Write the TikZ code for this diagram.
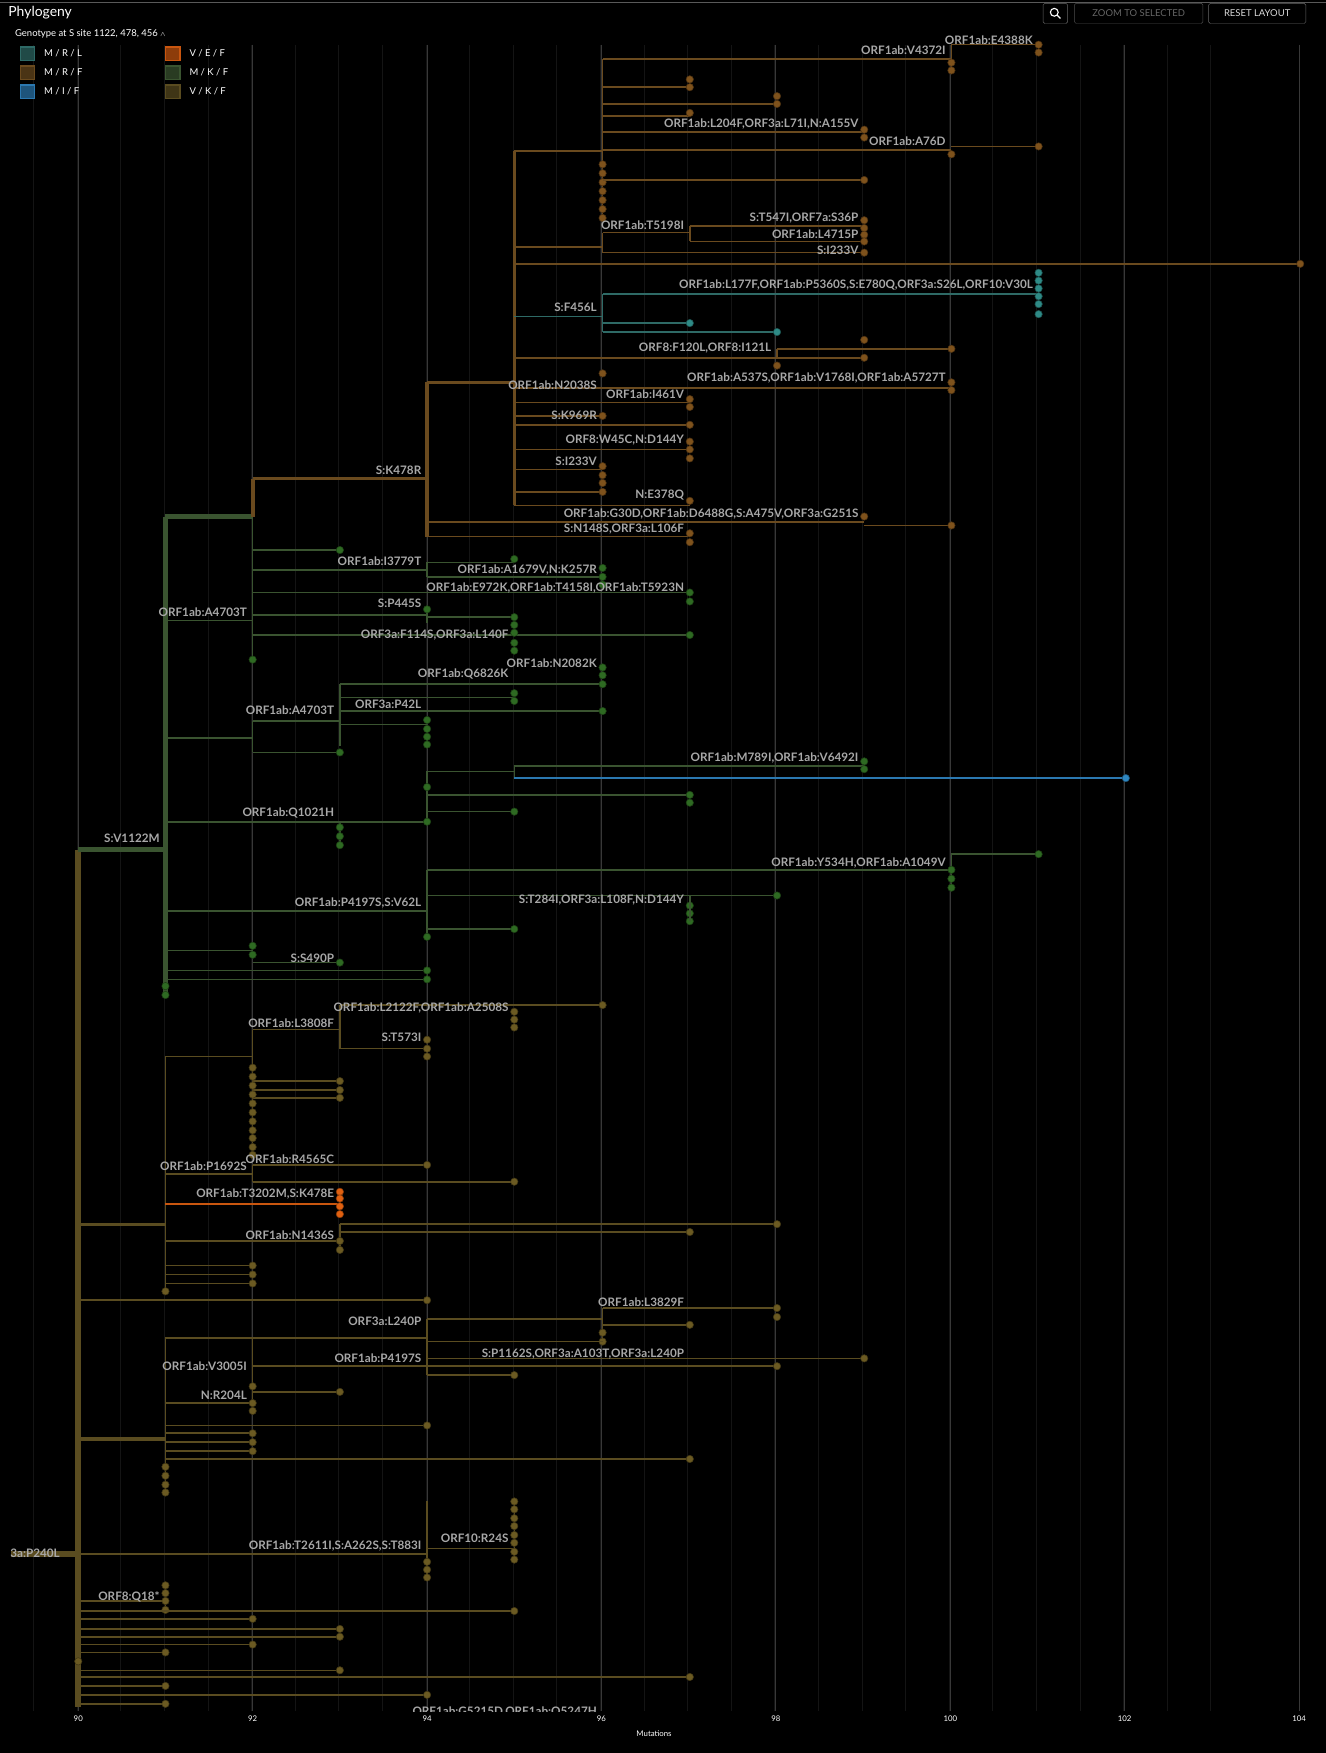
\documentclass[tikz,border=0pt]{standalone}
\usepackage{fontspec}
\setmainfont{Lato}[BoldFont={Lato Bold}]
\begin{document}
\begin{tikzpicture}[x=1bp,y=-1bp,
 vk/.style={draw=vkc,line width=1.4pt}, mr/.style={draw=mrc,line width=1.4pt},
 mk/.style={draw=mkc,line width=1.4pt}, ml/.style={draw=mlc,line width=1.4pt},
 mi/.style={draw=mic,line width=1.4pt}, ve/.style={draw=vec,line width=1.4pt},
 lab/.style={anchor=base east,text=labc,font=\bfseries\fontsize{10.5}{11}\selectfont,inner sep=1pt},
 tick/.style={text=white,font=\fontsize{7}{8}\selectfont}]
\definecolor{vkc}{HTML}{5A4C20}\definecolor{mrc}{HTML}{6A4A1E}\definecolor{mkc}{HTML}{3A5430}
\definecolor{mlc}{HTML}{2E6A66}\definecolor{mic}{HTML}{2B78B0}\definecolor{vec}{HTML}{C9560F}
\definecolor{labc}{HTML}{A8A8A8}
\definecolor{vkd}{HTML}{6B5A22}\definecolor{mrd}{HTML}{7E521C}\definecolor{mkd}{HTML}{2E6A22}
\definecolor{mld}{HTML}{2E8A86}\definecolor{mid}{HTML}{2E86C0}\definecolor{ved}{HTML}{E06010}
\fill[black] (0,0) rectangle (1186,1568);
\useasboundingbox (0,0) rectangle (1186,1568);
\newcommand\HL[4]{\draw[#1] (#2,#4)--(#3,#4);}
\newcommand\VL[4]{\draw[#1] (#2,#3)--(#2,#4);}
\newcommand\DT[3]{\fill[#1d,draw=#1d!60!black,line width=0.5pt] (#2,#3) circle (3.3);}
\newcommand\LB[3]{\node[lab] at (#1,#2) {#3};}
% grid
\foreach \i in {0,...,27}{\draw[line width=0.6pt,color=white!8!black] ({30+39*\i},40)--({30+39*\i},1530);}
\foreach \i in {0,...,7}{\draw[line width=0.8pt,color=white!22!black] ({70+156*\i},40)--({70+156*\i},1530);
 \pgfmathtruncatemacro\v{90+2*\i}\node[tick] at ({70+156*\i},1537) {\v};}
\node[text=white,font=\fontsize{7}{8}\selectfont] at (585,1551) {Mutations};
% header
\draw[white!35!black,line width=1pt] (0,2)--(1186,2);
\node[anchor=west,text=white,font=\fontsize{12.5}{13}\selectfont] at (4,11) {Phylogeny};
\node[anchor=west,text=white,font=\fontsize{8.5}{9}\selectfont] at (10,30) {Genotype at S site 1122, 478, 456 $\scriptstyle\wedge$};
\foreach \c/\t/\x/\y in {mlc/{M / R / L}/18/48, mrc/{M / R / F}/18/65, mic/{M / I / F}/18/82, vec/{V / E / F}/148/48, mkc/{M / K / F}/148/65, vkc/{V / K / F}/148/82}{
 \draw[\c,fill=\c!70!black,line width=1pt] (\x,\y-6) rectangle (\x+13,\y+6);
 \node[anchor=west,text=white,font=\fontsize{8.5}{9}\selectfont] at (\x+18,\y) {\t};}
\draw[white!40!black,rounded corners=1.5pt] (933,3) rectangle (955,21);
\draw[white,line width=1pt] (943,11) circle (3.5) (945.5,13.5)--(948.5,16.5);
\draw[white!30!black,rounded corners=1.5pt] (961,3) rectangle (1076,21);
\node[text=white!40!black,font=\fontsize{8.5}{9}\selectfont] at (1018.5,12) {ZOOM TO SELECTED};
\draw[white!40!black,rounded corners=1.5pt] (1081,3) rectangle (1168,21);
\node[text=white!85!black,font=\fontsize{8.5}{9}\selectfont] at (1124.5,12) {RESET LAYOUT};
% ===== trunk
\HL{vk,line width=5pt}{10}{70}{1390}
\node[lab,anchor=base west] at (8,1393) {3a:P240L};
\VL{vk,line width=5pt}{70}{760}{1527}
\HL{mk,line width=5pt}{70}{148}{760}\LB{144}{754}{S:V1122M}
\VL{mk,line width=4pt}{148}{462}{890}
\HL{mk,line width=4pt}{148}{226}{462}
\VL{mr,line width=3.5pt}{226}{428}{462}
\HL{mr,line width=3.5pt}{226}{382}{428}\LB{378}{424}{S:K478R}
\HL{mk}{226}{304}{492}\DT{mk}{304}{492}
\VL{mr,line width=3pt}{382}{342}{480}
\HL{mr,line width=3pt}{382}{460}{342}
\VL{mr,line width=3pt}{460}{135}{452}
% top brown clade
\HL{mr,line width=2.5pt}{460}{539}{135}
\VL{mr}{539}{53}{195}
\HL{mr}{539}{851}{53}\VL{mr}{851}{40}{63}\HL{mr}{851}{929}{40}
\DT{mr}{929}{40}\DT{mr}{929}{47}\DT{mr}{851}{56}\DT{mr}{851}{63}
\LB{925}{40}{ORF1ab:E4388K}\LB{847}{49}{ORF1ab:V4372I}
\HL{mr}{539}{617}{78}\DT{mr}{617}{71}\DT{mr}{617}{78}
\HL{mr}{539}{695}{93}\DT{mr}{695}{86}\DT{mr}{695}{93}
\HL{mr}{539}{617}{104}\DT{mr}{617}{101}
\HL{mr}{539}{773}{118}\DT{mr}{773}{116}\DT{mr}{773}{123}\LB{769}{114}{ORF1ab:L204F,ORF3a:L71I,N:A155V}
\HL{mr}{539}{851}{134}\HL{mr}{851}{929}{131}\DT{mr}{929}{131}\DT{mr}{851}{138}\LB{847}{130}{ORF1ab:A76D}
\foreach \y in {147,155,163,171,179,187,195}{\DT{mr}{539}{\y}}
\HL{mr}{539}{773}{161}\DT{mr}{773}{161}
\HL{mr}{460}{539}{221}\VL{mr}{539}{208}{226}\LB{613}{205}{ORF1ab:T5198I}
\HL{mr}{539}{617}{208}\VL{mr}{617}{202}{216}
\HL{mr}{617}{773}{202}\DT{mr}{773}{197}\DT{mr}{773}{204}\LB{769}{198}{S:T547I,ORF7a:S36P}
\HL{mr}{617}{773}{216}\DT{mr}{773}{210}\DT{mr}{773}{216}\LB{769}{213}{ORF1ab:L4715P}
\HL{mr}{539}{773}{226}\DT{mr}{773}{226}\LB{769}{228}{S:I233V}
\HL{mr}{460}{1163}{236}\DT{mr}{1163}{236}
% teal
\HL{ml}{460}{539}{283}\LB{535}{279}{S:F456L}\VL{ml}{539}{263}{297}
\HL{ml}{539}{929}{263}\foreach \y in {244,251,258,265,272,281}{\DT{ml}{929}{\y}}
\LB{925}{258}{ORF1ab:L177F,ORF1ab:P5360S,S:E780Q,ORF3a:S26L,ORF10:V30L}
\HL{ml}{539}{617}{289}\DT{ml}{617}{289}\HL{ml}{539}{695}{297}\DT{ml}{695}{297}
% more brown
\HL{mr}{460}{695}{320}\VL{mr}{695}{312}{320}\LB{691}{314}{ORF8:F120L,ORF8:I121L}
\HL{mr}{695}{773}{320}\DT{mr}{773}{304}\DT{mr}{773}{320}\HL{mr}{695}{851}{312}\DT{mr}{851}{312}\DT{mr}{695}{327}
\DT{mr}{539}{334}
\HL{mr}{460}{851}{347}\DT{mr}{851}{342}\DT{mr}{851}{349}\LB{847}{341}{ORF1ab:A537S,ORF1ab:V1768I,ORF1ab:A5727T}
\LB{535}{348}{ORF1ab:N2038S}
\HL{mr}{460}{617}{360}\DT{mr}{617}{357}\DT{mr}{617}{364}\LB{613}{356}{ORF1ab:I461V}
\HL{mr}{460}{539}{372}\DT{mr}{539}{372}\LB{535}{375}{S:K969R}
\HL{mr}{460}{617}{380}\DT{mr}{617}{380}
\HL{mr}{460}{617}{402}\foreach \y in {395,402,410}{\DT{mr}{617}{\y}}\LB{613}{397}{ORF8:W45C,N:D144Y}
\HL{mr}{460}{539}{420}\DT{mr}{539}{417}\DT{mr}{539}{425}\LB{535}{416}{S:I233V}
\DT{mr}{539}{432}\HL{mr}{460}{539}{440}\DT{mr}{539}{440}
\HL{mr}{460}{617}{452}\DT{mr}{617}{448}\LB{613}{446}{N:E378Q}
\HL{mr}{382}{773}{467}\DT{mr}{773}{462}\HL{mr}{773}{851}{470}\DT{mr}{851}{470}\LB{769}{463}{ORF1ab:G30D,ORF1ab:D6488G,S:A475V,ORF3a:G251S}
\HL{mr}{382}{617}{480}\DT{mr}{617}{477}\DT{mr}{617}{485}\LB{613}{476}{S:N148S,ORF3a:L106F}
% green clade 1
\VL{mk}{226}{462}{590}\LB{378}{506}{ORF1ab:I3779T}
\HL{mk}{226}{382}{510}\VL{mk}{382}{503}{516}
\HL{mk}{382}{460}{503}\DT{mk}{460}{500}
\HL{mk}{382}{539}{516}\DT{mk}{539}{508}\DT{mk}{539}{516}\DT{mk}{539}{523}\LB{535}{513}{ORF1ab:A1679V,N:K257R}
\HL{mk}{226}{617}{530}\DT{mk}{617}{530}\DT{mk}{617}{538}\LB{613}{529}{ORF1ab:E972K,ORF1ab:T4158I,ORF1ab:T5923N}
\HL{mk}{148}{226}{555}\LB{222}{551}{ORF1ab:A4703T}
\HL{mk}{226}{382}{550}\VL{mk}{382}{545}{557}\DT{mk}{382}{545}\LB{378}{543}{S:P445S}
\HL{mk}{382}{460}{552}\DT{mk}{460}{552}\DT{mk}{460}{559}
\HL{mk}{226}{617}{568}\foreach \y in {566,575,582}{\DT{mk}{460}{\y}}\DT{mk}{617}{568}\LB{456}{571}{ORF3a:F114S,ORF3a:L140F}
\DT{mk}{226}{590}
% green clade 2
\HL{mk}{148}{226}{660}\VL{mk}{226}{645}{673}
\HL{mk}{226}{304}{645}\LB{300}{639}{ORF1ab:A4703T}\VL{mk}{304}{612}{667}
\HL{mk}{304}{460}{612}\LB{456}{606}{ORF1ab:Q6826K}
\HL{mk}{460}{539}{612}\foreach \y in {597,604,612}{\DT{mk}{539}{\y}}\LB{535}{597}{ORF1ab:N2082K}
\HL{mk}{304}{460}{624}\DT{mk}{460}{620}\DT{mk}{460}{627}
\HL{mk}{304}{539}{636}\DT{mk}{539}{636}\LB{378}{634}{ORF3a:P42L}
\HL{mk}{304}{382}{648}\foreach \y in {644,652,659,666}{\DT{mk}{382}{\y}}
\HL{mk}{226}{304}{673}\DT{mk}{304}{673}
% green clade 3
\HL{mk}{148}{382}{735}\LB{300}{730}{ORF1ab:Q1021H}\VL{mk}{382}{690}{735}
\VL{mk}{304}{735}{756}\foreach \y in {740,748,756}{\DT{mk}{304}{\y}}
\HL{mk}{382}{460}{690}\VL{mk}{460}{685}{696}
\HL{mk}{460}{773}{685}\DT{mk}{773}{681}\DT{mk}{773}{688}\LB{769}{681}{ORF1ab:M789I,ORF1ab:V6492I}
\HL{mi}{460}{1007}{696}\DT{mi}{1007}{696}\DT{mk}{382}{704}
\HL{mk}{382}{617}{711}\DT{mk}{617}{711}\DT{mk}{617}{718}
\HL{mk}{382}{460}{726}\DT{mk}{460}{726}\DT{mk}{382}{735}
% green clade 4
\HL{mk}{148}{382}{815}\LB{378}{811}{ORF1ab:P4197S,S:V62L}\VL{mk}{382}{778}{838}
\HL{mk}{382}{851}{778}\VL{mk}{851}{764}{794}\HL{mk}{851}{929}{764}\DT{mk}{929}{764}
\foreach \y in {778,786,794}{\DT{mk}{851}{\y}}\LB{847}{775}{ORF1ab:Y534H,ORF1ab:A1049V}
\HL{mk}{382}{695}{801}\DT{mk}{695}{801}\foreach \y in {810,817,824}{\DT{mk}{617}{\y}}\VL{mk}{617}{801}{824}
\LB{613}{808}{S:T284I,ORF3a:L108F,N:D144Y}
\HL{mk}{382}{460}{831}\DT{mk}{460}{831}\DT{mk}{382}{838}
\HL{mk}{148}{226}{850}\DT{mk}{226}{846}\DT{mk}{226}{854}
\HL{mk}{148}{382}{868}\HL{mk}{226}{304}{861}\DT{mk}{304}{861}\DT{mk}{382}{868}\LB{300}{861}{S:S490P}
\HL{mk}{148}{382}{876}\DT{mk}{382}{876}\DT{mk}{148}{882}\DT{mk}{148}{890}
% olive clade A
\HL{vk,line width=3pt}{70}{148}{1095}\VL{vk}{148}{945}{1155}
\HL{vk}{148}{226}{945}\VL{vk}{226}{921}{1033}
\HL{vk}{226}{304}{921}\LB{300}{919}{ORF1ab:L3808F}\VL{vk}{304}{899}{938}
\HL{vk}{304}{539}{899}\DT{vk}{539}{899}\foreach \y in {905,912,919}{\DT{vk}{460}{\y}}\LB{456}{905}{ORF1ab:L2122F,ORF1ab:A2508S}
\HL{vk}{304}{382}{938}\foreach \y in {930,938,945}{\DT{vk}{382}{\y}}\LB{378}{932}{S:T573I}
\foreach \y in {967,975,982}{\HL{vk}{226}{304}{\y}\DT{vk}{304}{\y}}
\foreach \y in {955,963,971,979,987,995,1003,1011,1018,1026,1033}{\DT{vk}{226}{\y}}
\HL{vk}{148}{226}{1050}\LB{222}{1047}{ORF1ab:P1692S}\VL{vk}{226}{1042}{1057}
\HL{vk}{226}{382}{1042}\DT{vk}{382}{1042}\LB{300}{1041}{ORF1ab:R4565C}
\HL{vk}{226}{460}{1057}\DT{vk}{460}{1057}
\HL{ve}{148}{304}{1077}\foreach \y in {1066,1072,1079,1086}{\DT{ve}{304}{\y}}\LB{300}{1071}{ORF1ab:T3202M,S:K478E}
\HL{vk}{148}{304}{1110}\VL{vk}{304}{1095}{1118}\LB{300}{1109}{ORF1ab:N1436S}
\HL{vk}{304}{695}{1095}\DT{vk}{695}{1095}\HL{vk}{304}{617}{1102}\DT{vk}{617}{1102}
\DT{vk}{304}{1110}\DT{vk}{304}{1118}
\foreach \y in {1132,1140,1148}{\HL{vk}{148}{226}{\y}\DT{vk}{226}{\y}}
\DT{vk}{148}{1155}\HL{vk}{70}{382}{1163}\DT{vk}{382}{1163}
% olive clade B
\HL{vk,line width=3pt}{70}{148}{1287}\VL{vk}{148}{1197}{1335}
\HL{vk}{148}{226}{1197}\VL{vk}{226}{1197}{1262}\LB{222}{1226}{ORF1ab:V3005I}
\HL{vk}{226}{382}{1197}\LB{378}{1186}{ORF3a:L240P}\VL{vk}{382}{1180}{1230}
\HL{vk}{382}{539}{1180}\VL{vk}{539}{1170}{1200}\LB{613}{1169}{ORF1ab:L3829F}
\HL{vk}{539}{695}{1170}\DT{vk}{695}{1170}\DT{vk}{695}{1178}
\HL{vk}{539}{617}{1185}\DT{vk}{617}{1185}\DT{vk}{539}{1192}\DT{vk}{539}{1200}\HL{vk}{382}{539}{1200}
\HL{vk}{226}{382}{1222}\LB{378}{1219}{ORF1ab:P4197S}
\HL{vk}{382}{773}{1215}\DT{vk}{773}{1215}\LB{613}{1214}{S:P1162S,ORF3a:A103T,ORF3a:L240P}
\HL{vk}{382}{695}{1222}\DT{vk}{695}{1222}\HL{vk}{382}{460}{1230}\DT{vk}{460}{1230}
\HL{vk}{148}{226}{1255}\LB{222}{1252}{N:R204L}
\HL{vk}{226}{304}{1245}\DT{vk}{304}{1245}\DT{vk}{226}{1240}\DT{vk}{226}{1255}\DT{vk}{226}{1262}
\HL{vk}{148}{382}{1275}\DT{vk}{382}{1275}
\foreach \y in {1282,1290,1298}{\HL{vk}{148}{226}{\y}\DT{vk}{226}{\y}}
\HL{vk}{148}{617}{1305}\DT{vk}{617}{1305}
\foreach \y in {1312,1320,1328,1335}{\DT{vk}{148}{\y}}
% olive clade C
\HL{vk,line width=2pt}{70}{382}{1390}\LB{378}{1386}{ORF1ab:T2611I,S:A262S,S:T883I}
\VL{vk}{382}{1343}{1411}\VL{vk}{460}{1343}{1395}\HL{vk}{382}{460}{1385}
\foreach \y in {1343,1350,1358,1365,1373,1380,1388,1395}{\DT{vk}{460}{\y}}\LB{456}{1380}{ORF10:R24S}
\foreach \y in {1397,1404,1411}{\DT{vk}{382}{\y}}
\HL{vk}{70}{148}{1432}\VL{vk}{148}{1418}{1440}\LB{144}{1432}{ORF8:Q18*}
\foreach \y in {1418,1425,1432,1440}{\DT{vk}{148}{\y}}
\foreach \x/\y in {460/1441,226/1448,304/1457,304/1464,226/1471,148/1478,304/1494,617/1500,148/1508,382/1516,148/1524}{\HL{vk}{70}{\x}{\y}\DT{vk}{\x}{\y}}
\DT{vk}{70}{1486}
\begin{scope}\clip (0,0) rectangle (1186,1531);
\LB{535}{1534}{ORF1ab:G5215D,ORF1ab:Q5247H}
\end{scope}
\end{tikzpicture}
\end{document}
